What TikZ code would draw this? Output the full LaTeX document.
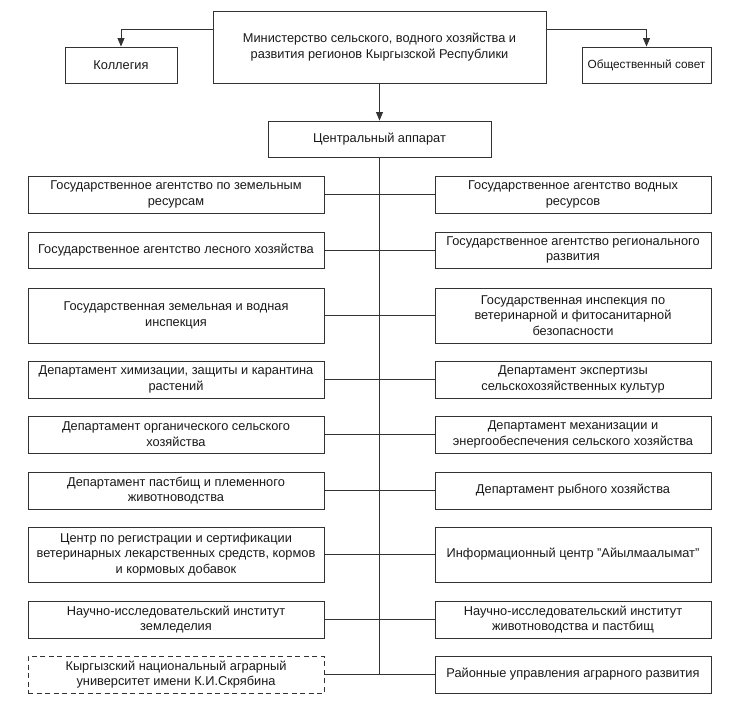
\documentclass[tikz,border=0pt]{standalone}
\usepackage{fontspec}
\setmainfont{Liberation Sans}
\usetikzlibrary{arrows.meta}
\begin{document}
\begin{tikzpicture}[x=1pt,y=-1pt,
  box/.style={draw=black!80,line width=0.9pt,align=center,inner sep=1pt,
    font=\fontsize{12.8}{15.8}\selectfont,text=black!90},
  lbox/.style={box,minimum width=296pt},
  rbox/.style={box,minimum width=276pt},
  link/.style={draw=black!80,line width=0.8pt},
  arr/.style={link,-{Triangle[length=8.5pt,width=7pt]}}]
\useasboundingbox (0,0) rectangle (748,704);
% top
\node[box,minimum width=333pt,minimum height=72pt] (min) at (379.5,47)
  {Министерство сельского, водного хозяйства и\\развития регионов Кыргызской Республики};
\node[box,minimum width=112pt,minimum height=36pt] (kol) at (121,65) {Коллегия};
\node[box,minimum width=129pt,minimum height=36pt,font=\fontsize{11.8}{14}\selectfont] (obs) at (646.5,65) {Общественный совет};
\node[box,minimum width=223pt,minimum height=36pt] (cen) at (379.5,139) {Центральный аппарат};
\coordinate (ml) at (213,29);
\coordinate (mr) at (546,29);
\coordinate (tend) at (379.5,674.5);
\draw[arr] (ml) -| (kol.north);
\draw[arr] (mr) -| (obs.north);
\draw[arr] (min.south) -- (cen.north);
\draw[link] (cen.south) -- (tend);
% left column
\node[lbox,minimum height=37pt] (l1) at (176,194.5) {Государственное агентство по земельным\\ресурсам};
\node[lbox,minimum height=36pt] (l2) at (176,250) {Государственное агентство лесного хозяйства};
\node[lbox,minimum height=55pt] (l3) at (176,315.5) {Государственная земельная и водная\\инспекция};
\node[lbox,minimum height=37pt] (l4) at (176,379.5) {Департамент химизации, защиты и карантина\\растений};
\node[lbox,minimum height=37pt] (l5) at (176,434.5) {Департамент органического сельского\\хозяйства};
\node[lbox,minimum height=37pt] (l6) at (176,490.5) {Департамент пастбищ и племенного\\животноводства};
\node[lbox,minimum height=55pt] (l7) at (176,554.5) {Центр по регистрации и сертификации\\ветеринарных лекарственных средств, кормов\\и кормовых добавок};
\node[lbox,minimum height=37pt] (l8) at (176,619.5) {Научно-исследовательский институт\\земледелия};
\node[lbox,minimum height=37pt,dashed,dash pattern=on 5pt off 3.5pt] (l9) at (176,674.5) {Кыргызский национальный аграрный\\университет имени К.И.Скрябина};
% right column
\node[rbox,minimum height=37pt] (r1) at (573,194.5) {Государственное агентство водных\\ресурсов};
\node[rbox,minimum height=36pt] (r2) at (573,250) {Государственное агентство регионального\\развития};
\node[rbox,minimum height=55pt] (r3) at (573,315.5) {Государственная инспекция по\\ветеринарной и фитосанитарной\\безопасности};
\node[rbox,minimum height=37pt] (r4) at (573,379.5) {Департамент экспертизы\\сельскохозяйственных культур};
\node[rbox,minimum height=37pt] (r5) at (573,434.5) {Департамент механизации и\\энергообеспечения сельского хозяйства};
\node[rbox,minimum height=37pt] (r6) at (573,490.5) {Департамент рыбного хозяйства};
\node[rbox,minimum height=55pt] (r7) at (573,554.5) {Информационный центр "Айылмаалымат"};
\node[rbox,minimum height=37pt] (r8) at (573,619.5) {Научно-исследовательский институт\\животноводства и пастбищ};
\node[rbox,minimum height=37pt] (r9) at (573,674.5) {Районные управления аграрного развития};
\foreach \i in {1,...,9}{
  \draw[link] (l\i.east) -- (l\i.east -| tend);
  \draw[link] (r\i.west -| tend) -- (r\i.west);
}
\end{tikzpicture}
\end{document}
